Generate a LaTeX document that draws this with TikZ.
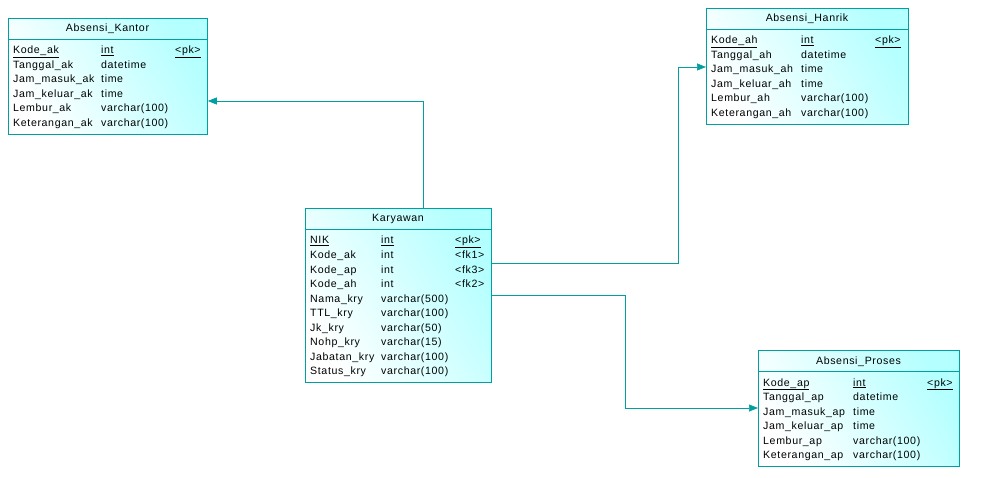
\documentclass[tikz,border=0pt]{standalone}
\usepackage{fontspec}
\setmainfont[LetterSpace=6]{Liberation Sans}
\usetikzlibrary{arrows.meta}
\definecolor{bord}{RGB}{0,160,160}
\definecolor{fillc}{RGB}{180,255,255}
\tikzset{
  tbl/.style={draw=bord, line width=0.8pt, left color=white, right color=fillc, shading angle=120, anchor=north west, inner sep=0pt},
  txt/.style={anchor=base west, inner sep=0pt, font=\fontsize{10.6}{12}\selectfont},
  ttl/.style={anchor=base, inner sep=0pt, font=\fontsize{10.6}{12}\selectfont},
  conn/.style={draw=bord, line width=0.7pt},
  arr/.style={conn, -{Triangle[length=9pt,width=7pt]}},
}
\begin{document}
\begin{tikzpicture}[x=1pt,y=-1pt]
\useasboundingbox (0,0) rectangle (982,478);
% Absensi_Kantor
\node[tbl, minimum width=199pt, minimum height=116pt] (kan) at (8,18) {};
\draw[bord, line width=0.7pt] (8,39) -- (207,39);
\node[ttl] (kant) at (107.5,32) {Absensi\_Kantor};
\node[txt] (kan1) at (13,54) {\underline{Kode\_ak}};
\node[txt] (kan1t) at (101,54) {\underline{int}};
\node[txt] (kan1k) at (175,54) {\underline{<pk>}};
\node[txt] (kan2) at (13,68.5) {Tanggal\_ak}; \node[txt] (kan2t) at (101,68.5) {datetime};
\node[txt] (kan3) at (13,83) {Jam\_masuk\_ak}; \node[txt] (kan3t) at (101,83) {time};
\node[txt] (kan4) at (13,97.5) {Jam\_keluar\_ak}; \node[txt] (kan4t) at (101,97.5) {time};
\node[txt] (kan5) at (13,112) {Lembur\_ak}; \node[txt] (kan5t) at (101,112) {varchar(100)};
\node[txt] (kan6) at (13,126.5) {Keterangan\_ak}; \node[txt] (kan6t) at (101,126.5) {varchar(100)};
% Absensi_Hanrik
\node[tbl, minimum width=202pt, minimum height=116pt] (han) at (706,8) {};
\draw[bord, line width=0.7pt] (706,29) -- (908,29);
\node[ttl] (hant) at (807,22) {Absensi\_Hanrik};
\node[txt] (han1) at (711,44) {\underline{Kode\_ah}};
\node[txt] (han1t) at (801,44) {\underline{int}};
\node[txt] (han1k) at (875,44) {\underline{<pk>}};
\node[txt] (han2) at (711,58.5) {Tanggal\_ah}; \node[txt] (han2t) at (801,58.5) {datetime};
\node[txt] (han3) at (711,73) {Jam\_masuk\_ah}; \node[txt] (han3t) at (801,73) {time};
\node[txt] (han4) at (711,87.5) {Jam\_keluar\_ah}; \node[txt] (han4t) at (801,87.5) {time};
\node[txt] (han5) at (711,102) {Lembur\_ah}; \node[txt] (han5t) at (801,102) {varchar(100)};
\node[txt] (han6) at (711,116.5) {Keterangan\_ah}; \node[txt] (han6t) at (801,116.5) {varchar(100)};
% Absensi_Proses
\node[tbl, minimum width=201pt, minimum height=116pt] (pro) at (758,350) {};
\draw[bord, line width=0.7pt] (758,371) -- (959,371);
\node[ttl] (prot) at (858.5,364) {Absensi\_Proses};
\node[txt] (pro1) at (763,386) {\underline{Kode\_ap}};
\node[txt] (pro1t) at (853,386) {\underline{int}};
\node[txt] (pro1k) at (927,386) {\underline{<pk>}};
\node[txt] (pro2) at (763,400.5) {Tanggal\_ap}; \node[txt] (pro2t) at (853,400.5) {datetime};
\node[txt] (pro3) at (763,415) {Jam\_masuk\_ap}; \node[txt] (pro3t) at (853,415) {time};
\node[txt] (pro4) at (763,429.5) {Jam\_keluar\_ap}; \node[txt] (pro4t) at (853,429.5) {time};
\node[txt] (pro5) at (763,444) {Lembur\_ap}; \node[txt] (pro5t) at (853,444) {varchar(100)};
\node[txt] (pro6) at (763,458.5) {Keterangan\_ap}; \node[txt] (pro6t) at (853,458.5) {varchar(100)};
% Karyawan
\node[tbl, minimum width=186pt, minimum height=174pt] (kar) at (305,208) {};
\draw[bord, line width=0.7pt] (305,229) -- (491,229);
\node[ttl] (kart) at (398,222) {Karyawan};
\node[txt] (kar1) at (310,244) {\underline{NIK}};
\node[txt] (kar1t) at (381,244) {\underline{int}};
\node[txt] (kar1k) at (455,244) {\underline{<pk>}};
\node[txt] (kar2) at (310,258.5) {Kode\_ak}; \node[txt] (kar2t) at (381,258.5) {int}; \node[txt] (kar2k) at (455,258.5) {<fk1>};
\node[txt] (kar3) at (310,273) {Kode\_ap}; \node[txt] (kar3t) at (381,273) {int}; \node[txt] (kar3k) at (455,273) {<fk3>};
\node[txt] (kar4) at (310,287.5) {Kode\_ah}; \node[txt] (kar4t) at (381,287.5) {int}; \node[txt] (kar4k) at (455,287.5) {<fk2>};
\node[txt] (kar5) at (310,302) {Nama\_kry}; \node[txt] (kar5t) at (381,302) {varchar(500)};
\node[txt] (kar6) at (310,316.5) {TTL\_kry}; \node[txt] (kar6t) at (381,316.5) {varchar(100)};
\node[txt] (kar7) at (310,331) {Jk\_kry}; \node[txt] (kar7t) at (381,331) {varchar(50)};
\node[txt] (kar8) at (310,345.5) {Nohp\_kry}; \node[txt] (kar8t) at (381,345.5) {varchar(15)};
\node[txt] (kar9) at (310,360) {Jabatan\_kry}; \node[txt] (kar9t) at (381,360) {varchar(100)};
\node[txt] (kar10) at (310,374.5) {Status\_kry}; \node[txt] (kar10t) at (381,374.5) {varchar(100)};
% connectors
\draw[arr] (kar.north -| 423,0) |- (kan.east |- 0,101);
\draw[arr] (kar.east |- 0,263) -| (678,67) -- (han.west |- 0,67);
\draw[arr] (kar.east |- 0,295) -| (625,408) -- (pro.west |- 0,408);
\end{tikzpicture}
\end{document}
